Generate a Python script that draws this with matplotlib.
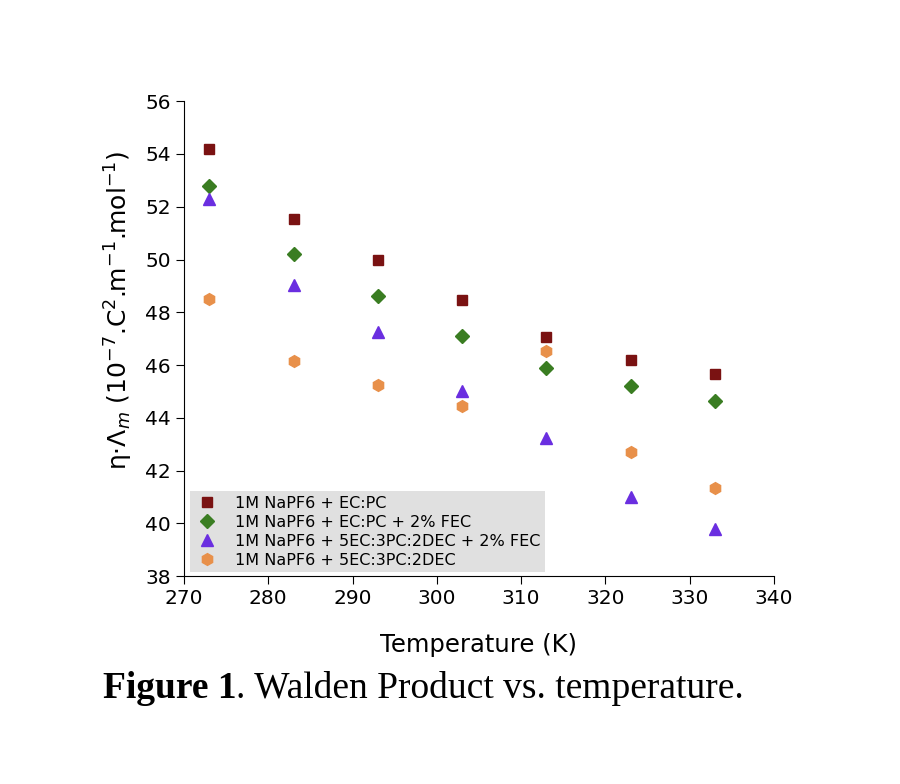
import matplotlib.pyplot as plt

temps = [273, 283, 293, 303, 313, 323, 333]

ec_pc = [54.2, 51.55, 50.0, 48.45, 47.05, 46.2, 45.65]
ec_pc_fec = [52.8, 50.2, 48.6, 47.1, 45.9, 45.2, 44.65]
dec_fec = [52.3, 49.05, 47.25, 45.0, 43.25, 41.0, 39.8]
dec = [48.5, 46.15, 45.25, 44.45, 46.55, 42.7, 41.35]

labels = ['1M NaPF6 + EC:PC',
          '1M NaPF6 + EC:PC + 2% FEC',
          '1M NaPF6 + 5EC:3PC:2DEC + 2% FEC',
          '1M NaPF6 + 5EC:3PC:2DEC']

plt.rcParams['mathtext.fontset'] = 'dejavusans'

fig = plt.figure(figsize=(9, 7.84), dpi=100)
ax = fig.add_axes([0.2044, 0.265, 0.6556, 0.606])

ax.plot(temps, ec_pc, 's', color='#7a1212', ms=7, ls='none', label=labels[0])
ax.plot(temps, ec_pc_fec, 'D', color='#3a7d22', ms=7, ls='none', label=labels[1])
ax.plot(temps, dec_fec, '^', color='#6a2ee0', ms=8.5, ls='none', label=labels[2])
ax.plot(temps, dec, 'h', color='#e8904a', ms=8.5, ls='none', label=labels[3])

ax.set_xlim(270, 340)
ax.set_ylim(38, 56)
ax.set_xticks(range(270, 341, 10))
ax.set_yticks(range(38, 57, 2))
ax.spines['top'].set_visible(False)
ax.spines['right'].set_visible(False)
ax.tick_params(direction='out', length=6, labelsize=14.5)

ax.set_xlabel('Temperature (K)', fontsize=17.5, labelpad=18)
ax.set_ylabel('η·$\\Lambda_m$ (10$^{\\mathrm{-7}}$.C$^{2}$.m$^{\\mathrm{-1}}$.mol$^{\\mathrm{-1}}$)',
              fontsize=18)
ax.yaxis.set_label_coords(-0.083, 0.56)

leg = ax.legend(loc='lower left', bbox_to_anchor=(0.01, 0.008), borderaxespad=0,
                fontsize=11.5, frameon=True, fancybox=False, labelspacing=0.25,
                handletextpad=0.9, borderpad=0.3, handlelength=1.6)
leg.get_frame().set_facecolor('#e0e0e0')
leg.get_frame().set_edgecolor('none')
leg.get_frame().set_alpha(1)

t1 = fig.text(0.114, 0.122, 'Figure 1', family='Liberation Serif', weight='bold',
              fontsize=27, va='center')
r = fig.canvas.get_renderer()
bb = t1.get_window_extent(r).transformed(fig.transFigure.inverted())
fig.text(bb.x1, 0.122, '. Walden Product vs. temperature.', family='Liberation Serif',
         fontsize=27, va='center')

fig.savefig('out.png')
